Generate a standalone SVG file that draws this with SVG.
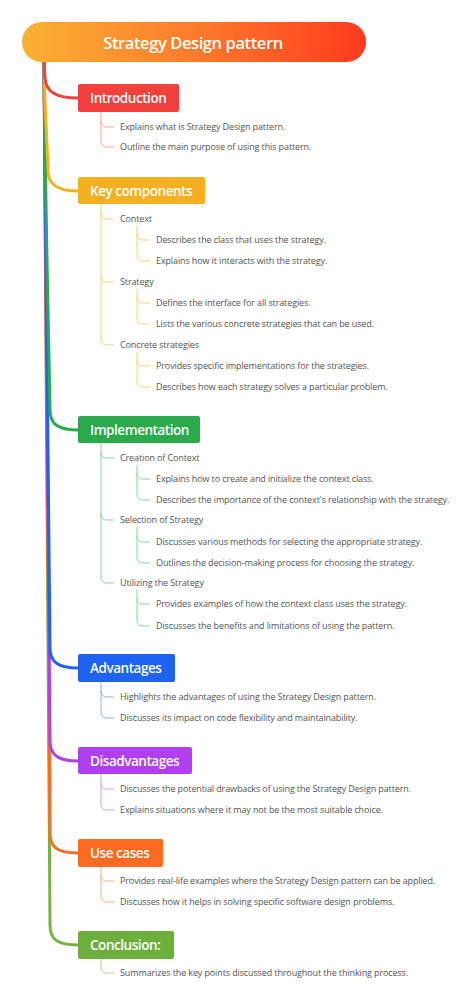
<svg xmlns="http://www.w3.org/2000/svg" width="474" height="998" viewBox="0 0 474 998">
<defs>
<linearGradient id="rootg" x1="0" y1="0" x2="1" y2="0">
<stop offset="0" stop-color="#F9B233"/>
<stop offset="0.5" stop-color="#FF7B2C"/>
<stop offset="1" stop-color="#FF3A1E"/>
</linearGradient>
</defs>
<style>
.br{fill:none;stroke-width:3;stroke-linecap:round}
.sub{fill:none;stroke-width:1}
.lbl{font-family:"Open Sans","Noto Sans",sans-serif;font-weight:600;font-size:13.5px;letter-spacing:-0.45px;fill:#fff}
.t{font-family:"Open Sans","Noto Sans",sans-serif;font-size:9px;letter-spacing:-0.12px;fill:#555}
</style>
<rect width="474" height="998" fill="#fff"/>
<g id="connectors">
<path class="br" stroke="#78B342" d="M44 62 C46 500 50 900 50 925 C50 940 58 945 78 945"/>
<path class="br" stroke="#FF6B23" d="M44 62 C46 450 50 810 50 833 C50 848 58 853 78 853"/>
<path class="br" stroke="#B13FF0" d="M44 62 C46 400 50 720 50 741 C50 755 58 761 78 761"/>
<path class="br" stroke="#1E64F0" d="M44 62 C46 350 50 625 50 648 C50 662 58 668 78 668"/>
<path class="br" stroke="#2BAA4C" d="M44 62 C46 250 50 390 50 410 C50 424 58 430 78 430"/>
<path class="br" stroke="#F5B021" d="M44 62 C45 130 48 150 48 171 C48 185 58 191 78 191"/>
<path class="br" stroke="#F2403A" stroke-width="4" d="M44 62 L45 78 C46 92 56 98 78 98"/>
<g stroke="#F5A3A0" class="sub">
<path d="M101 112 L101 121 Q101 127 107 127 L114 127 M101 121 L101 141 Q101 147 107 147 L114 147"/>
</g>
<g stroke="#F8D27A" class="sub">
<path d="M101 204 L101 213 Q101 219 107 219 L114 219 M101 213 L101 276 Q101 282 107 282 L114 282 M101 276 L101 339 Q101 345 107 345 L114 345"/>
<path d="M137 226 L137 234 Q137 240 143 240 L150 240 M137 234 L137 255 Q137 261 143 261 L150 261"/>
<path d="M137 289 L137 297 Q137 303 143 303 L150 303 M137 297 L137 318 Q137 324 143 324 L150 324"/>
<path d="M137 352 L137 360 Q137 366 143 366 L150 366 M137 360 L137 381 Q137 387 143 387 L150 387"/>
</g>
<g stroke="#8FD3A0" class="sub">
<path d="M101 443 L101 452 Q101 458 107 458 L114 458 M101 452 L101 514 Q101 520 107 520 L114 520 M101 514 L101 577 Q101 583 107 583 L114 583"/>
<path d="M137 465 L137 473 Q137 479 143 479 L150 479 M137 473 L137 494 Q137 500 143 500 L150 500"/>
<path d="M137 527 L137 536 Q137 542 143 542 L150 542 M137 536 L137 557 Q137 563 143 563 L150 563"/>
<path d="M137 590 L137 598 Q137 604 143 604 L150 604 M137 598 L137 620 Q137 626 143 626 L150 626"/>
</g>
<g stroke="#8CAEF5" class="sub">
<path d="M101 682 L101 691 Q101 697 107 697 L114 697 M101 691 L101 712 Q101 718 107 718 L114 718"/>
</g>
<g stroke="#D59BF5" class="sub">
<path d="M101 774 L101 783 Q101 789 107 789 L114 789 M101 783 L101 804 Q101 810 107 810 L114 810"/>
</g>
<g stroke="#FFB08A" class="sub">
<path d="M101 867 L101 875 Q101 881 107 881 L114 881 M101 875 L101 896 Q101 902 107 902 L114 902"/>
</g>
<g stroke="#B2D494" class="sub">
<path d="M101 959 L101 967 Q101 973 107 973 L114 973"/>
</g>
</g>
<g id="root">
<rect x="22" y="22" width="344" height="40" rx="20" fill="url(#rootg)"/>
<text x="193" y="49" text-anchor="middle" font-family="Open Sans,Noto Sans,sans-serif" font-weight="600" font-size="16.5" letter-spacing="-0.4" fill="#fff">Strategy Design pattern</text>
</g>
<g id="introduction">
<rect x="78" y="84" width="101" height="28" rx="2" fill="#F2403A"/>
<text class="lbl" x="90" y="103">Introduction</text>
<text class="t" x="120" y="130">Explains what is Strategy Design pattern.</text>
<text class="t" x="120" y="150">Outline the main purpose of using this pattern.</text>
</g>
<g id="key-components">
<rect x="78" y="177" width="127" height="27" rx="2" fill="#F5B021"/>
<text class="lbl" x="90" y="196">Key components</text>
<text class="t" x="120" y="222">Context</text>
<text class="t" x="156" y="243">Describes the class that uses the strategy.</text>
<text class="t" x="156" y="264">Explains how it interacts with the strategy.</text>
<text class="t" x="120" y="285">Strategy</text>
<text class="t" x="156" y="306">Defines the interface for all strategies.</text>
<text class="t" x="156" y="327">Lists the various concrete strategies that can be used.</text>
<text class="t" x="120" y="348">Concrete strategies</text>
<text class="t" x="156" y="369">Provides specific implementations for the strategies.</text>
<text class="t" x="156" y="390">Describes how each strategy solves a particular problem.</text>
</g>
<g id="implementation">
<rect x="78" y="416" width="122" height="27" rx="2" fill="#2BAA4C"/>
<text class="lbl" x="90" y="435">Implementation</text>
<text class="t" x="120" y="461">Creation of Context</text>
<text class="t" x="156" y="482">Explains how to create and initialize the context class.</text>
<text class="t" x="156" y="503">Describes the importance of the context's relationship with the strategy.</text>
<text class="t" x="120" y="523">Selection of Strategy</text>
<text class="t" x="156" y="545">Discusses various methods for selecting the appropriate strategy.</text>
<text class="t" x="156" y="566">Outlines the decision-making process for choosing the strategy.</text>
<text class="t" x="120" y="586">Utilizing the Strategy</text>
<text class="t" x="156" y="607">Provides examples of how the context class uses the strategy.</text>
<text class="t" x="156" y="629">Discusses the benefits and limitations of using the pattern.</text>
</g>
<g id="advantages">
<rect x="78" y="654" width="97" height="28" rx="2" fill="#1E64F0"/>
<text class="lbl" x="90" y="673">Advantages</text>
<text class="t" x="120" y="700">Highlights the advantages of using the Strategy Design pattern.</text>
<text class="t" x="120" y="721">Discusses its impact on code flexibility and maintainability.</text>
</g>
<g id="disadvantages">
<rect x="78" y="747" width="114" height="27" rx="2" fill="#B13FF0"/>
<text class="lbl" x="90" y="766">Disadvantages</text>
<text class="t" x="120" y="792">Discusses the potential drawbacks of using the Strategy Design pattern.</text>
<text class="t" x="120" y="813">Explains situations where it may not be the most suitable choice.</text>
</g>
<g id="use-cases">
<rect x="78" y="839" width="85" height="28" rx="2" fill="#FF6B23"/>
<text class="lbl" x="90" y="858">Use cases</text>
<text class="t" x="120" y="884">Provides real-life examples where the Strategy Design pattern can be applied.</text>
<text class="t" x="120" y="905">Discusses how it helps in solving specific software design problems.</text>
</g>
<g id="conclusion">
<rect x="78" y="931" width="96" height="28" rx="2" fill="#6DAF3C"/>
<text class="lbl" x="90" y="950">Conclusion:</text>
<text class="t" x="120" y="976">Summarizes the key points discussed throughout the thinking process.</text>
</g>
</svg>
